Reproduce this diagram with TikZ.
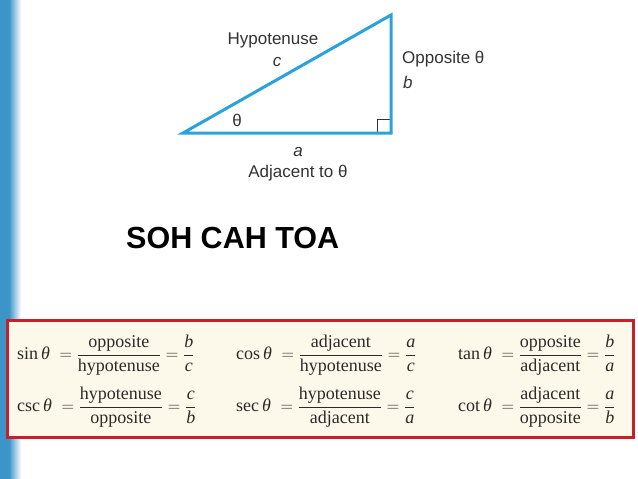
\documentclass[tikz,border=0pt]{standalone}
\usepackage{amsmath}
\usepackage{fontspec}
\setmainfont{Liberation Serif}
\newfontfamily\lsans{Liberation Sans}
\definecolor{barblue}{HTML}{3B95C9}
\definecolor{triblue}{HTML}{2AA2DC}
\definecolor{labgray}{HTML}{333333}
\definecolor{boxred}{HTML}{C8202A}
\definecolor{cream}{HTML}{FDF9EA}
\definecolor{fmgray}{HTML}{2A2A2A}
\newcommand{\vi}[1]{\textit{#1}}
\tikzset{
  lab/.style={font=\lsans\fontsize{17}{20}\selectfont, text=labgray, inner sep=0pt},
  tri/.style={draw=triblue, line width=3pt, line join=miter},
  fm/.style={font=\fontsize{18}{22}\selectfont, text=fmgray, inner sep=0pt, anchor=west},
}
\begin{document}
\begin{tikzpicture}[x=1pt,y=-1pt]
\useasboundingbox (0,0) rectangle (638,479);
\fill[white] (0,0) rectangle (638,479);
% left bar
\fill[barblue] (0,0) rectangle (9,479);
\shade[left color=barblue, right color=white] (9,0) rectangle (21,479);
% triangle
\coordinate (A) at (183,133);
\coordinate (B) at (391,133);
\coordinate (C) at (391,15);
\coordinate (R1) at (377,133);
\coordinate (R2) at (377,119);
\coordinate (R3) at (391,119);
\draw[labgray, line width=0.8pt] (R1) -- (R2) -- (R3);
\draw[tri] (A) -- (B) -- (C) -- cycle;
\node[lab] (hyp) at (273,40) {Hypotenuse};
\node[lab] (c) at (277,62) {\itshape c};
\node[lab, anchor=west] (opp) at (402,59) {Opposite θ};
\node[lab, anchor=west] (b) at (403,82) {\itshape b};
\node[lab] (th) at (237,120) {θ};
\node[lab] (a) at (298,152) {\itshape a};
\node[lab] (adj) at (298,173) {Adjacent to θ};
% SOH CAH TOA
\node[font=\lsans\bfseries\fontsize{30.5}{34}\selectfont, anchor=west, inner sep=0pt] (soh) at (126,238) {SOH CAH TOA};
% box
\draw[draw=boxred, fill=cream, line width=3pt] (7,320) rectangle (633,437);
\node[fm] (sin) at (17,355) {$\sin\vi{θ}\; = \dfrac{\text{opposite}}{\text{hypotenuse}} = \dfrac{\vi{b}}{\vi{c}}$};
\node[fm] (cos) at (236,355) {$\cos\vi{θ}\; = \dfrac{\text{adjacent}}{\text{hypotenuse}} = \dfrac{\vi{a}}{\vi{c}}$};
\node[fm] (tan) at (458,355) {$\tan\vi{θ}\; = \dfrac{\text{opposite}}{\text{adjacent}} = \dfrac{\vi{b}}{\vi{a}}$};
\node[fm] (csc) at (17,407) {$\csc\vi{θ}\; = \dfrac{\text{hypotenuse}}{\text{opposite}} = \dfrac{\vi{c}}{\vi{b}}$};
\node[fm] (sec) at (236,407) {$\sec\vi{θ}\; = \dfrac{\text{hypotenuse}}{\text{adjacent}} = \dfrac{\vi{c}}{\vi{a}}$};
\node[fm] (cot) at (458,407) {$\cot\vi{θ}\; = \dfrac{\text{adjacent}}{\text{opposite}} = \dfrac{\vi{a}}{\vi{b}}$};
\end{tikzpicture}
\end{document}
